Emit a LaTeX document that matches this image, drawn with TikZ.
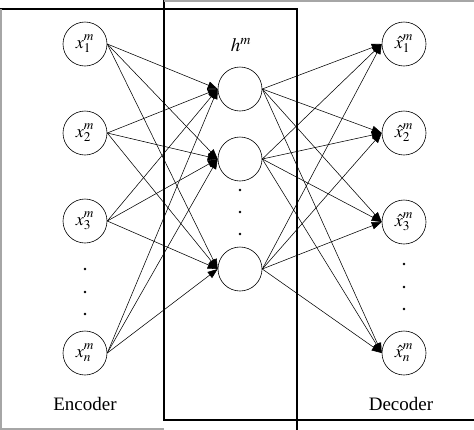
\documentclass[tikz,border=0pt]{standalone}
\usepackage{mathptmx}
\usepackage{fontspec}
\setmainfont{Liberation Serif}
\usetikzlibrary{arrows.meta}
\newcommand{\inp}[1]{${x\vphantom{bq}}_{#1}^{m}$}
\newcommand{\outp}[1]{${\hat{x}\vphantom{bq}}_{#1}^{m}$}
\begin{document}
\begin{tikzpicture}[x=1pt,y=-1pt,
  neuron/.style={circle,draw,line width=0.6pt,minimum size=44pt,inner sep=0pt,font=\fontsize{18}{20}\selectfont},
  link/.style={line width=0.55pt,-{Triangle[length=10pt,width=7.5pt]}},
  boxline/.style={line width=1.3pt},
  edgeline/.style={line width=2pt,gray!70},
  dotn/.style={circle,fill,inner sep=0pt,minimum size=2.6pt},
  lbl/.style={font=\fontsize{19}{22}\selectfont}]
\useasboundingbox (0,0) rectangle (474,429);
\begin{scope}
\clip (0,0) rectangle (474,429);
% Encoder box
\draw[boxline] (0,9) -- (297,9) -- (297,440);
\draw[edgeline] (1,9) -- (1,440);
\draw[edgeline] (0,428.5) -- (164,428.5);
% Decoder box
\draw[boxline] (164,0) -- (164,420) -- (480,420);
\draw[edgeline] (164,1) -- (480,1);
\end{scope}

% input layer
\node[neuron] (x1) at (85,44)  {\inp{1}};
\node[neuron] (x2) at (85,133) {\inp{2}};
\node[neuron] (x3) at (85,221) {\inp{3}};
\node[neuron] (xn) at (85,353) {\inp{n}};
\node[dotn] (di1) at (85,269) {};
\node[dotn] (di2) at (85,292) {};
\node[dotn] (di3) at (85,314) {};

% hidden layer
\node[lbl] (hl) at (241,45) {$h^m$};
\node[neuron] (h1) at (240,89)  {};
\node[neuron] (h2) at (240,159) {};
\node[neuron] (h3) at (240,269) {};
\node[dotn] (dh1) at (240,190) {};
\node[dotn] (dh2) at (240,212) {};
\node[dotn] (dh3) at (240,234) {};

% output layer
\node[neuron] (y1) at (404,44)  {\outp{1}};
\node[neuron] (y2) at (404,133) {\outp{2}};
\node[neuron] (y3) at (404,222) {\outp{3}};
\node[neuron] (yn) at (404,353) {\outp{n}};
\node[dotn] (do1) at (404,264) {};
\node[dotn] (do2) at (404,287) {};
\node[dotn] (do3) at (404,309) {};

\node[lbl] (enc) at (85,404) {Encoder};
\node[lbl] (dec) at (401,404) {Decoder};

\foreach \i in {x1,x2,x3,xn}
  \foreach \h in {h1,h2,h3}
    \draw[link] (\i.east) -- (\h.west);
\foreach \h in {h1,h2,h3}
  \foreach \o in {y1,y2,y3,yn}
    \draw[link] (\h.east) -- (\o.west);
\end{tikzpicture}
\end{document}
